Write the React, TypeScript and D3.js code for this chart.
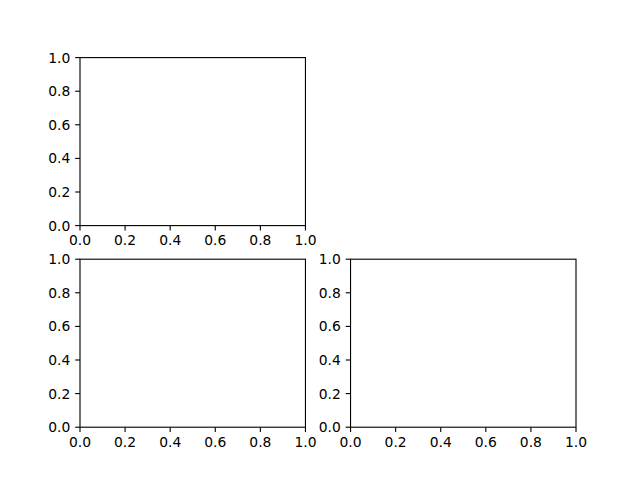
import React from "react";
import * as d3 from "d3";

const tickValues = [0, 0.2, 0.4, 0.6, 0.8, 1.0];
const tickLabels = ["0.0", "0.2", "0.4", "0.6", "0.8", "1.0"];
// subplot grid cells that are drawn: [row, col]
const panels = [
  [0, 0],
  [1, 0],
  [1, 1],
];

const W = 640;
const H = 480;
const left = 0.125 * W;
const right = 0.9 * W;
const top = (1 - 0.88) * H;
const bottom = (1 - 0.11) * H;
const wspace = 0.2;
const hspace = 0.2;
const cols = 2;
const rows = 2;
const axW = (right - left) / (cols + (cols - 1) * wspace);
const axH = (bottom - top) / (rows + (rows - 1) * hspace);
const fs = 13.89;
const tickLen = 4.86;
const pad = 4.86;
const lw = 1.11;
const cap = 0.729 * fs;

function Panel({ row, col }: { row: number; col: number }) {
  const x0 = left + col * axW * (1 + wspace);
  const y0 = top + row * axH * (1 + hspace);
  const x = d3.scaleLinear().domain([0, 1]).range([x0, x0 + axW]);
  const y = d3.scaleLinear().domain([0, 1]).range([y0 + axH, y0]);
  return (
    <g>
      {tickValues.map((v, i) => (
        <g key={"x" + i}>
          <line x1={x(v)} x2={x(v)} y1={y0 + axH} y2={y0 + axH + tickLen} stroke="#000" strokeWidth={lw} />
          <text x={x(v)} y={y0 + axH + tickLen + pad + cap} textAnchor="middle" fontSize={fs} fontFamily="DejaVu Sans" fill="#000">
            {tickLabels[i]}
          </text>
        </g>
      ))}
      {tickValues.map((v, i) => (
        <g key={"y" + i}>
          <line x1={x0 - tickLen} x2={x0} y1={y(v)} y2={y(v)} stroke="#000" strokeWidth={lw} />
          <text x={x0 - tickLen - pad} y={y(v) + cap / 2} textAnchor="end" fontSize={fs} fontFamily="DejaVu Sans" fill="#000">
            {tickLabels[i]}
          </text>
        </g>
      ))}
      <rect x={x0} y={y0} width={axW} height={axH} fill="none" stroke="#000" strokeWidth={lw} />
    </g>
  );
}

export default function App() {
  return (
    <svg width={W} height={H} style={{ position: "absolute", left: 0, top: 0, background: "#fff" }}>
      <rect width={W} height={H} fill="#fff" />
      {panels.map(([r, c], i) => (
        <Panel key={i} row={r} col={c} />
      ))}
    </svg>
  );
}
